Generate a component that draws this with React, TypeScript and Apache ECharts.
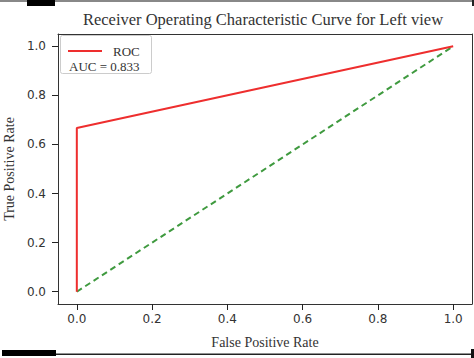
import React, { useEffect, useRef } from "react";
import * as echarts from "echarts";

const fpr = [0, 0, 1];
const tpr = [0, 0.667, 1];
const chanceX = [0, 1];
const chanceY = [0, 1];
const tickValues = [0, 0.2, 0.4, 0.6, 0.8, 1.0];
const axisMin = -0.05;
const axisMax = 1.05;
const titleText = "Receiver Operating Characteristic Curve for Left view";
const legendLabel = "ROC";
const aucLabel = "AUC = 0.833";

export default function App() {
  const ref = useRef<HTMLDivElement>(null);
  useEffect(() => {
    const chart = echarts.init(ref.current!, undefined, { renderer: "svg" });
    const serif = "Liberation Serif";
    const sans = "DejaVu Sans";
    const axisCommon = {
      type: "value" as const,
      min: axisMin,
      max: axisMax,
      splitLine: { show: false },
      axisLine: { show: true, onZero: false, lineStyle: { color: "#333", width: 1 } },
      axisTick: {
        show: true,
        inside: false,
        length: 6,
        customValues: tickValues,
        lineStyle: { color: "#222", width: 1 },
      },
      axisLabel: {
        color: "#333",
        fontFamily: sans,
        fontSize: 12,
        customValues: tickValues,
        formatter: (v: number) => v.toFixed(1),
      },
      nameLocation: "middle" as const,
      nameTextStyle: { fontFamily: serif, fontSize: 14, color: "#333" },
    };
    const frameAxis = {
      type: "value" as const,
      min: axisMin,
      max: axisMax,
      axisLine: { show: true, onZero: false, lineStyle: { color: "#333", width: 1 } },
      axisTick: { show: false },
      axisLabel: { show: false },
      splitLine: { show: false },
    };
    chart.setOption({
      animation: false,
      backgroundColor: "#fff",
      title: {
        text: titleText,
        left: 258,
        textAlign: "center",
        top: 6,
        textStyle: { fontFamily: serif, fontSize: 16.5, fontWeight: "normal", color: "#333" },
      },
      grid: {
        left: 58,
        right: 2,
        top: 34,
        bottom: 54,
        containLabel: false,
        outerBoundsMode: "none",
      },
      xAxis: [
        {
          ...axisCommon,
          name: "False Positive Rate",
          nameGap: 31,
          axisLabel: { ...axisCommon.axisLabel, margin: 9 },
        },
        { ...frameAxis, position: "top" },
      ],
      yAxis: [
        {
          ...axisCommon,
          name: "True Positive Rate",
          nameGap: 38,
          axisLabel: { ...axisCommon.axisLabel, margin: 12 },
        },
        { ...frameAxis, position: "right" },
      ],
      series: [
        {
          type: "line",
          name: legendLabel,
          data: fpr.map((x, i) => [x, tpr[i]]),
          showSymbol: false,
          lineStyle: { color: "#ee2e2e", width: 2 },
          z: 3,
        },
        {
          type: "line",
          data: chanceX.map((x, i) => [x, chanceY[i]]),
          showSymbol: false,
          lineStyle: { color: "#3f9a3f", width: 2, type: [6, 4] },
          z: 2,
        },
      ],
      graphic: [
        { type: "rect", shape: { x: 0, y: 0, width: 474, height: 2 }, style: { fill: "#888" }, z: 100 },
        { type: "rect", shape: { x: 27, y: 0, width: 28, height: 6 }, style: { fill: "#000" }, z: 100 },
        { type: "rect", shape: { x: 472, y: 0, width: 2, height: 6 }, style: { fill: "#222" }, z: 100 },
        { type: "rect", shape: { x: 2, y: 350, width: 54, height: 6 }, style: { fill: "#000" }, z: 100 },
        { type: "rect", shape: { x: 56, y: 353.5, width: 416, height: 1.5 }, style: { fill: "#222" }, z: 100 },
        { type: "rect", shape: { x: 471, y: 349, width: 3, height: 9 }, style: { fill: "#111" }, z: 100 },
        {
          type: "rect",
          shape: { x: 60.5, y: 35.5, width: 91, height: 38, r: 2 },
          style: { fill: "#fff", stroke: "#ccc", lineWidth: 1 },
          z: 50,
        },
        {
          type: "line",
          shape: { x1: 68, y1: 51, x2: 102, y2: 51 },
          style: { stroke: "#ee2e2e", lineWidth: 2 },
          z: 51,
        },
        {
          type: "text",
          x: 113,
          y: 51,
          style: { text: legendLabel, fontFamily: serif, fontSize: 13, fill: "#333", verticalAlign: "middle" },
          z: 51,
        },
        {
          type: "text",
          x: 69,
          y: 66,
          style: { text: aucLabel, fontFamily: serif, fontSize: 13, fill: "#333", verticalAlign: "middle" },
          z: 51,
        },
      ],
    });
    return () => chart.dispose();
  }, []);
  return (
    <div
      ref={ref}
      style={{ position: "fixed", left: 0, top: 0, width: 474, height: 358 }}
    />
  );
}
